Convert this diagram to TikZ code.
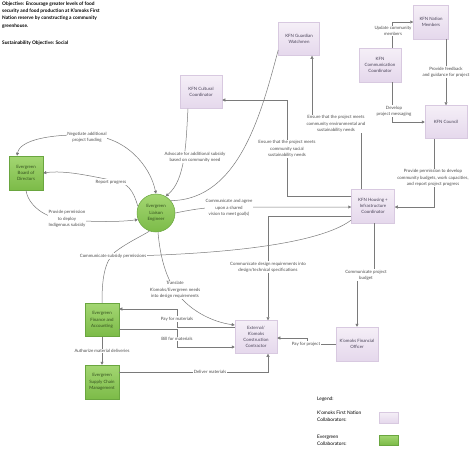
\documentclass[tikz,border=0pt]{standalone}
\usepackage{fontspec}
\setmainfont{Lato}
\usetikzlibrary{arrows.meta,calc}
\definecolor{ptop}{HTML}{F5EFF7}
\definecolor{pbot}{HTML}{E5D8EC}
\definecolor{pborder}{HTML}{D8C9E0}
\definecolor{ptext}{HTML}{4A4458}
\definecolor{gtop}{HTML}{A3D672}
\definecolor{gbot}{HTML}{7CBB48}
\definecolor{gborder}{HTML}{6AA63F}
\definecolor{gtext}{HTML}{34501F}
\definecolor{edgecol}{HTML}{7A7A7A}
\definecolor{labtext}{HTML}{4D4D4D}
\newcommand\boxfont{\fontsize{4.4}{6.2}\selectfont}
\newcommand\labfont{\fontsize{4.4}{6.4}\selectfont}
\newcommand\titlefont{\fontsize{4.8}{7.3}\selectfont\bfseries}
\newcommand\legfont{\fontsize{4.8}{7}\selectfont}
\tikzset{
  pbox/.style={draw=pborder, line width=0.5pt, top color=ptop, bottom color=pbot, minimum width=42pt, minimum height=33pt, align=center, font=\boxfont, text=ptext, inner sep=1pt},
  gbox/.style={draw=gborder, line width=0.5pt, top color=gtop, bottom color=gbot, minimum width=34pt, minimum height=34pt, align=center, font=\boxfont, text=gtext, inner sep=1pt},
  gcirc/.style={circle, draw=gborder, line width=0.5pt, top color=gtop, bottom color=gbot, minimum size=38pt, align=center, font=\boxfont, text=gtext, inner sep=0pt},
  lab/.style={fill=white, align=center, font=\labfont, text=labtext, inner sep=0.6pt},
  con/.style={draw=edgecol, line width=0.5pt},
  arr/.style={con, -{Triangle[length=3pt,width=3pt]}},
  arrboth/.style={con, {Triangle[length=3pt,width=3pt]}-{Triangle[length=3pt,width=3pt]}},
}
\begin{document}
\begin{tikzpicture}[x=1pt,y=-1pt]
\useasboundingbox[fill=white] (0,0) rectangle (474,448);

% title
\node[anchor=north west, align=left, font=\titlefont, inner sep=0pt] (title) at (2,1.5) {Objective: Encourage greater levels of food\\security and food production at K’omoks First\\Nation reserve by constructing a community\\greenhouse.};
\node[anchor=west, font=\titlefont, inner sep=0pt] (sust) at (2,43) {Sustainability Objective: Social};

% nodes
\node[pbox, minimum width=41pt] (guard) at (299,39) {KFN Guardian\\Watchmen};
\node[pbox, minimum width=35pt, minimum height=34pt] (nation) at (431,22) {KFN Nation\\Members};
\node[pbox, minimum height=34pt] (comm) at (380,65) {KFN\\Communication\\Coordinator};
\node[pbox] (council) at (446,122) {KFN Council};
\node[pbox] (cultural) at (201,92) {KFN Cultural\\Coordinator};
\node[gbox] (board) at (26,173) {Evergreen\\Board of\\Directors};
\node[gcirc] (liaison) at (156,213) {Evergreen\\Liaison\\Engineer};
\node[pbox, minimum width=43pt, minimum height=34pt] (housing) at (373,206) {KFN Housing +\\Infrastructure\\Coordinator};
\node[gbox, minimum height=33pt] (finance) at (102,320) {Evergreen\\Finance and\\Accounting};
\node[gbox] (supply) at (102,382) {Evergreen\\Supply Chain\\Management};
\node[pbox] (contractor) at (256,337) {External/\\K’omoks\\Construction\\Contractor};
\node[pbox, minimum height=34pt] (officer) at (357,344) {K’omoks Financial\\Officer};

% connectors
\draw[arrboth] ([xshift=-9pt]board.north) .. controls (20,140) and (50,134) .. (87,135) .. controls (125,136) and (150,165) .. (liaison.north);
\draw[arr] (liaison.160) .. controls (133,190) and (128,182) .. (111,180) .. controls (90,176) and (65,170) .. (board.east);
\draw[arr] (board.south) .. controls (28,205) and (45,219) .. (68,220) .. controls (95,222) and (120,222) .. (liaison.200);
\draw[arr] ([xshift=-13pt]cultural.south) .. controls (186,140) and (186,180) .. (liaison.60);
\draw[con] ([yshift=-11pt]guard.west) .. controls (262,110) and (240,200) .. (liaison.40);
\draw[arr] ([xshift=-12pt]housing.north) -- (361,124) -| ([xshift=13pt]guard.south);
\draw[arr] ([yshift=10pt]housing.west) -| (287,100) -- ([yshift=-8pt]cultural.east);
\draw[arr] (liaison.east) .. controls (190,210) and (205,207) .. (228,207) -- ([yshift=-1pt]housing.west);
\draw[arr] ([yshift=-10pt]housing.west) -| ([xshift=12pt]contractor.north);
\draw[con] ([yshift=-14pt]housing.west) .. controls (325,240) and (250,253) .. (130,256);
\draw[con] (finance.north) .. controls (102,280) and (104,262) .. (115,252) .. controls (128,242) and (142,236) .. (liaison.250);
\draw[arr] ([xshift=2pt]liaison.south) .. controls (160,255) and (165,275) .. (175,290) .. controls (188,310) and (212,322) .. ([yshift=12pt]contractor.west);
\draw[arr] ([yshift=10pt]contractor.west) -| (177,309) -- ([yshift=11pt]finance.east);
\draw[arr] ([yshift=-9pt]finance.east) -| (177,347) -- ([yshift=-10pt]contractor.west);
\draw[arr] (finance.south) -- (supply.north);
\draw[arr] ([yshift=10pt]supply.east) -| ([xshift=12pt]contractor.south);
\draw[arr] (officer.west) -- (307,344) |- ([yshift=-1pt]contractor.east);
\draw[arr] ([xshift=1pt]housing.south) -- (374,275) -| (officer.north);
\draw[arr] ([xshift=-12pt]council.south) |- ([yshift=-1pt]housing.east);
\draw[arr] ([xshift=12pt]comm.south) |- (council.west);
\draw[arr] ([xshift=12pt]comm.north) |- (nation.west);
\draw[arr] ([xshift=15pt]nation.south) -- (council.north);

% labels
\node[lab] (l1) at (87,137) {Negotiate additional\\project funding};
\node[lab] (l2) at (111,182) {Report progress};
\node[lab] (l3) at (67,219) {Provide permission\\to deploy\\Indigenous subsidy};
\node[lab] (l4) at (195,157) {Advocate for additional subsidy\\based on community need};
\node[lab] (l6) at (336,124) {Ensure that the project meets\\community environmental and\\sustainability needs};
\node[lab] (l7) at (287,149) {Ensure that the project meets\\community social\\sustainability needs};
\node[lab] (l8) at (229,208) {Communicate and agree\\upon a shared\\vision to meet goal(s)};
\node[lab] (l9) at (268,267) {Communicate design requirements into\\design/technical specifications};
\node[lab] (l10) at (113,256) {Communicate subsidy permissions};
\node[lab] (l11) at (175,290) {Translate\\K’omoks/Evergreen needs\\into design requirements};
\node[lab] (l12) at (177,319) {Pay for materials};
\node[lab] (l13) at (177,339) {Bill for materials};
\node[lab] (l14) at (102,351) {Authorize material deliveries};
\node[lab] (l15) at (210,372) {Deliver materials};
\node[lab] (l16) at (306,344) {Pay for project};
\node[lab] (l17) at (366,275) {Communicate project\\budget};
\node[lab] (l18) at (433,178) {Provide permission to develop\\community budgets, work capacities,\\and report project progress};
\node[lab] (l19) at (394,111) {Develop\\project messaging};
\node[lab] (l20) at (393,31) {Update community\\members};
\node[lab] (l21) at (446,72) {Provide feedback\\and guidance for project};

% legend
\node[anchor=west, font=\legfont, inner sep=0pt] (legend) at (317,399) {Legend:};
\node[anchor=west, align=left, font=\legfont, inner sep=0pt] (leg1) at (317,416.5) {K’omoks First Nation\\Collaborators:};
\node[draw=pborder, line width=0.5pt, top color=ptop, bottom color=pbot, minimum width=19pt, minimum height=11pt, inner sep=0pt] (sw1) at (388.5,417.5) {};
\node[anchor=west, align=left, font=\legfont, inner sep=0pt] (leg2) at (317,440.5) {Evergreen\\Collaborators:};
\node[draw=gborder, line width=0.5pt, top color=gtop, bottom color=gbot, minimum width=19pt, minimum height=10pt, inner sep=0pt] (sw2) at (388.5,440) {};
\end{tikzpicture}
\end{document}
